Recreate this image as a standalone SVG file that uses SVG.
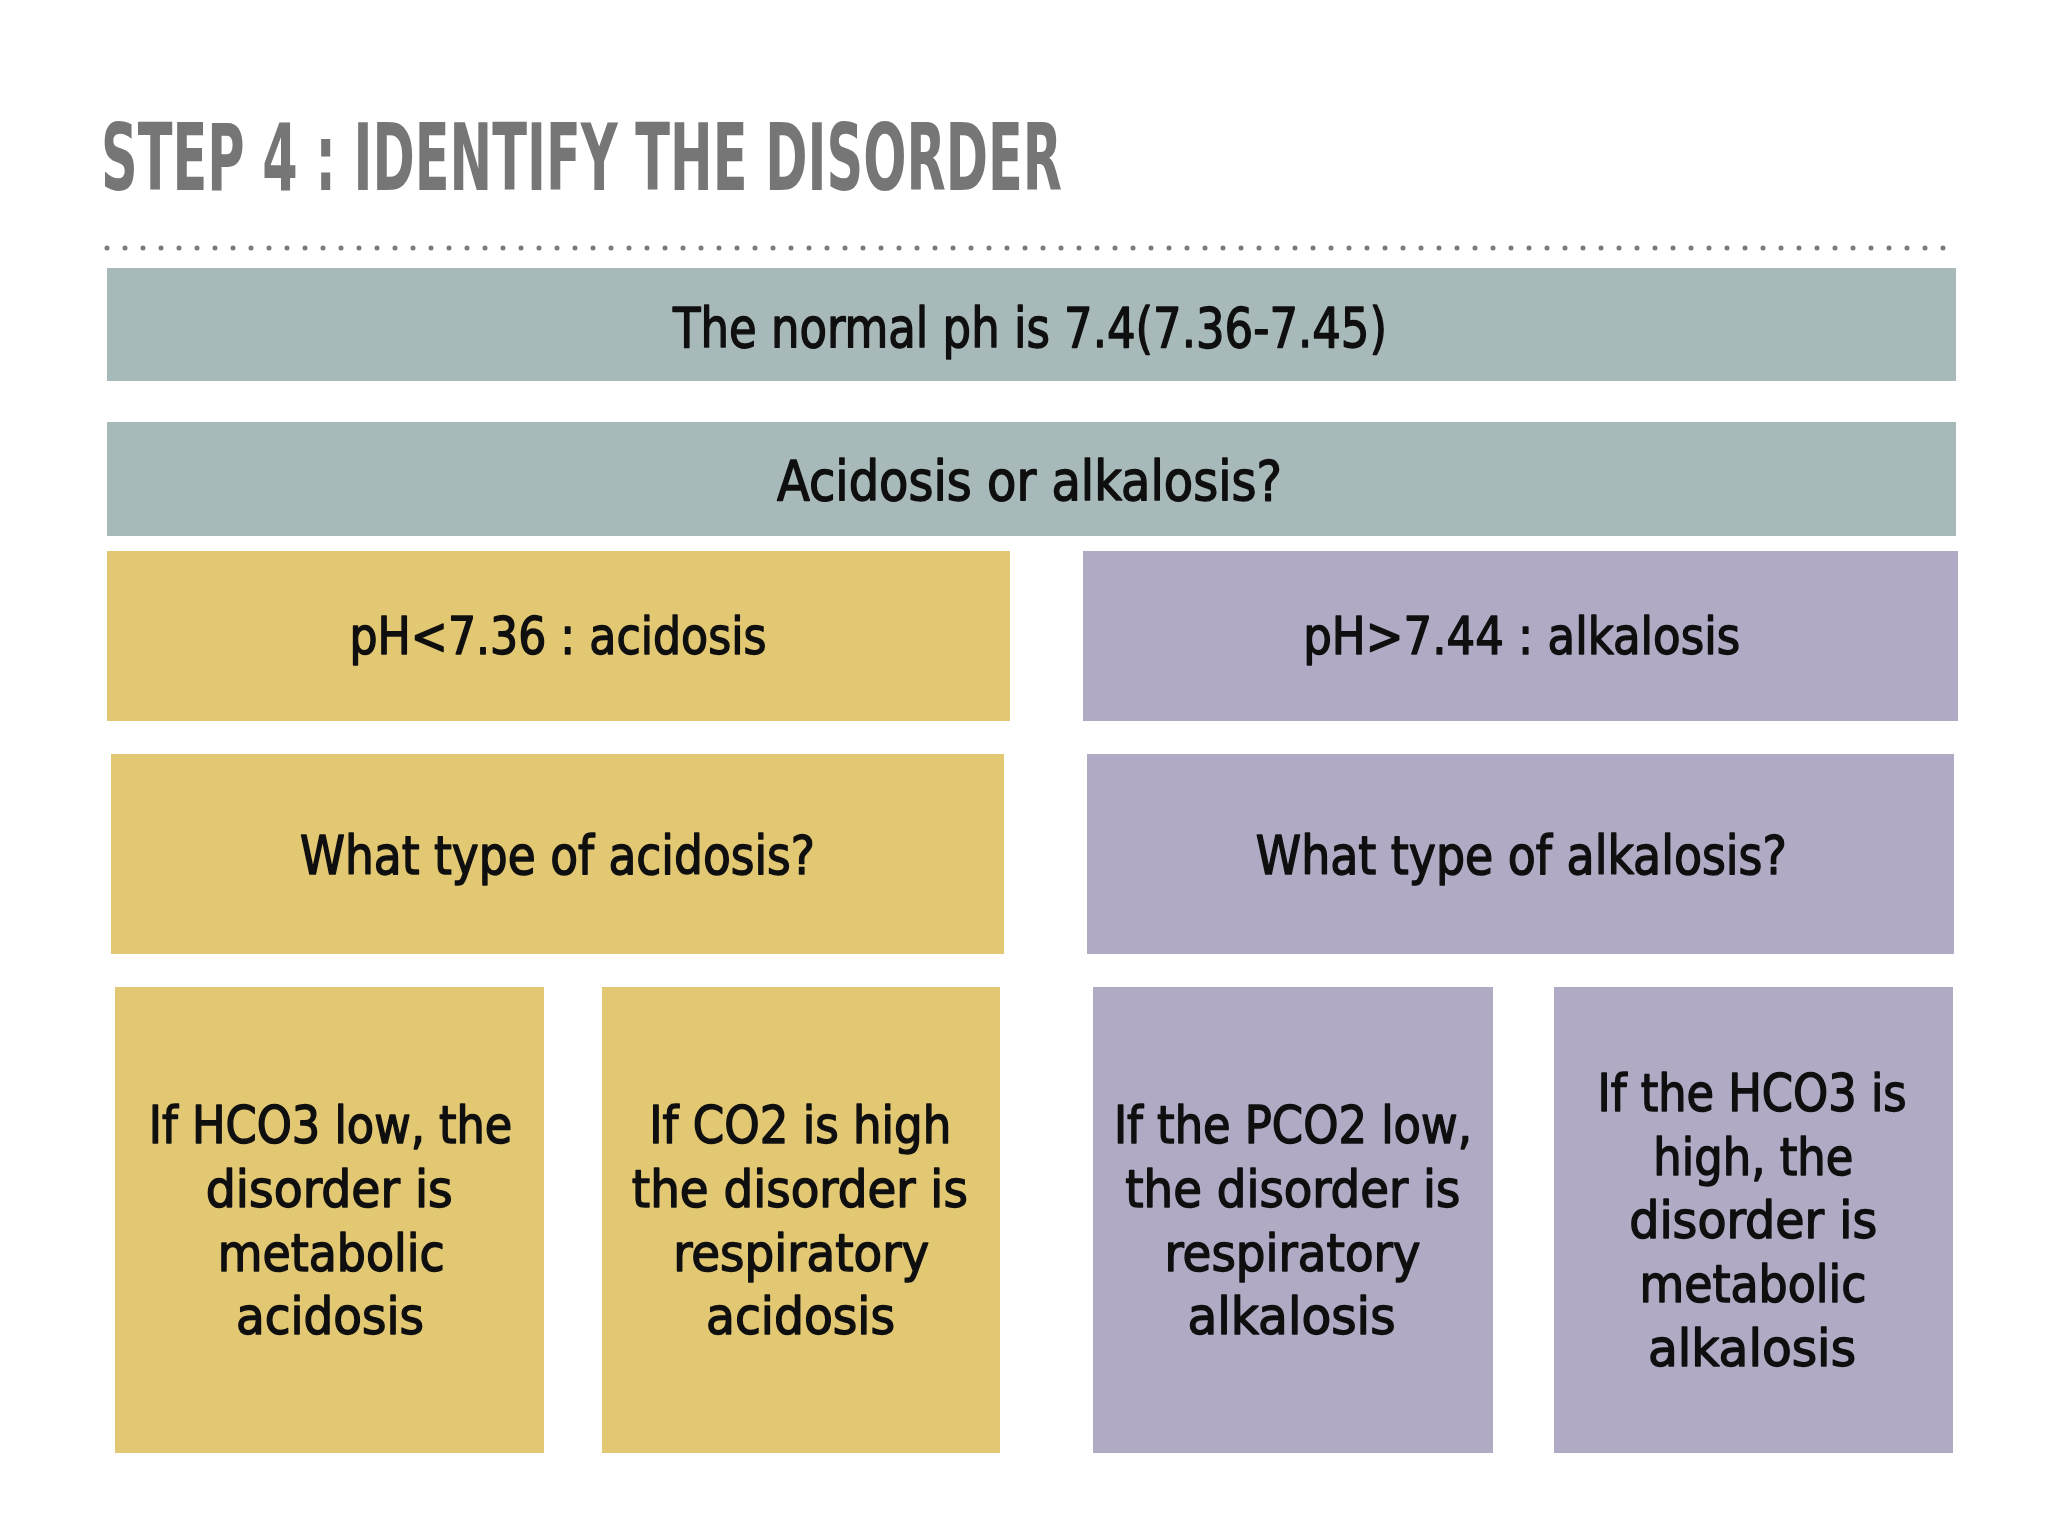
<svg xmlns="http://www.w3.org/2000/svg" width="2048" height="1536" viewBox="0 0 2048 1536">
  <style>
    .teal { fill: #a8b9b9; }
    .yel { fill: #e3c874; }
    .pur { fill: #b1aac5; }
    .t { font-family: "DejaVu Sans Condensed", "DejaVu Sans", sans-serif; font-stretch: condensed; fill: #0f0f0f; stroke: #0f0f0f; stroke-width: 1.4px; stroke-linejoin: round; text-anchor: middle; }
    .title { font-family: "DejaVu Sans Condensed", "DejaVu Sans", sans-serif; font-stretch: condensed; font-weight: bold; fill: #767676; font-size: 93px; }
    .s56 { font-size: 56px; }
    .s55 { font-size: 55px; }
    .s52 { font-size: 51.5px; }
    .s53 { font-size: 53.5px; }
    .s51 { font-size: 51px; }
  </style>
  <rect x="0" y="0" width="2048" height="1536" fill="#ffffff"/>

  <g id="title">
    <text class="title" x="101" y="189.5" textLength="961" lengthAdjust="spacingAndGlyphs">STEP 4 : IDENTIFY THE DISORDER</text>
    <line x1="107" y1="248" x2="1946" y2="248" stroke="#7a7a7a" stroke-width="5" stroke-linecap="round" stroke-dasharray="0 18"/>
  </g>

  <g id="connectors"></g>

  <g id="normal-ph">
    <rect class="teal" x="107" y="268" width="1849" height="113"/>
    <text class="t s56" x="1030" y="347" textLength="714" lengthAdjust="spacingAndGlyphs">The normal ph is 7.4(7.36-7.45)</text>
  </g>

  <g id="acid-or-alk">
    <rect class="teal" x="107" y="422" width="1849" height="114"/>
    <text class="t s55" x="1029.5" y="500" textLength="505" lengthAdjust="spacingAndGlyphs">Acidosis or alkalosis?</text>
  </g>

  <g id="acidosis">
    <rect class="yel" x="107" y="551" width="903" height="170"/>
    <text class="t s52" x="558" y="654" textLength="417" lengthAdjust="spacingAndGlyphs">pH&lt;7.36 : acidosis</text>
  </g>

  <g id="alkalosis">
    <rect class="pur" x="1083" y="551" width="875" height="170"/>
    <text class="t s52" x="1521.7" y="654" textLength="437" lengthAdjust="spacingAndGlyphs">pH&gt;7.44 : alkalosis</text>
  </g>

  <g id="acidosis-type">
    <rect class="yel" x="111" y="754" width="893" height="200"/>
    <text class="t s53" x="557.5" y="873.5" textLength="515" lengthAdjust="spacingAndGlyphs">What type of acidosis?</text>
  </g>

  <g id="alkalosis-type">
    <rect class="pur" x="1087" y="754" width="867" height="200"/>
    <text class="t s53" x="1521.3" y="874" textLength="531" lengthAdjust="spacingAndGlyphs">What type of alkalosis?</text>
  </g>

  <g id="metabolic-acidosis">
    <rect class="yel" x="115" y="987" width="429" height="466"/>
    <text class="t s51" x="330.6" y="1143" textLength="363.5" lengthAdjust="spacingAndGlyphs">If HCO3 low, the</text>
    <text class="t s51" x="329.3" y="1207" textLength="247" lengthAdjust="spacingAndGlyphs">disorder is</text>
    <text class="t s51" x="331.3" y="1270.5" textLength="227" lengthAdjust="spacingAndGlyphs">metabolic</text>
    <text class="t s51" x="330" y="1334" textLength="188" lengthAdjust="spacingAndGlyphs">acidosis</text>
  </g>

  <g id="respiratory-acidosis">
    <rect class="yel" x="602" y="987" width="398" height="466"/>
    <text class="t s51" x="800.3" y="1143" textLength="302" lengthAdjust="spacingAndGlyphs">If CO2 is high</text>
    <text class="t s51" x="799.8" y="1207" textLength="336" lengthAdjust="spacingAndGlyphs">the disorder is</text>
    <text class="t s51" x="801.2" y="1270.5" textLength="256" lengthAdjust="spacingAndGlyphs">respiratory</text>
    <text class="t s51" x="800.5" y="1334" textLength="189" lengthAdjust="spacingAndGlyphs">acidosis</text>
  </g>

  <g id="respiratory-alkalosis">
    <rect class="pur" x="1093" y="987" width="400" height="466"/>
    <text class="t s51" x="1292.9" y="1143" textLength="358" lengthAdjust="spacingAndGlyphs">If the PCO2 low,</text>
    <text class="t s51" x="1292.8" y="1207" textLength="335" lengthAdjust="spacingAndGlyphs">the disorder is</text>
    <text class="t s51" x="1292.5" y="1270.5" textLength="256" lengthAdjust="spacingAndGlyphs">respiratory</text>
    <text class="t s51" x="1291.5" y="1334" textLength="208" lengthAdjust="spacingAndGlyphs">alkalosis</text>
  </g>

  <g id="metabolic-alkalosis">
    <rect class="pur" x="1554" y="987" width="399" height="466"/>
    <text class="t s51" x="1752.1" y="1110.7" textLength="309" lengthAdjust="spacingAndGlyphs">If the HCO3 is</text>
    <text class="t s51" x="1753.3" y="1174.5" textLength="200" lengthAdjust="spacingAndGlyphs">high, the</text>
    <text class="t s51" x="1753.2" y="1238.3" textLength="248" lengthAdjust="spacingAndGlyphs">disorder is</text>
    <text class="t s51" x="1753" y="1302" textLength="227" lengthAdjust="spacingAndGlyphs">metabolic</text>
    <text class="t s51" x="1752" y="1365.8" textLength="208" lengthAdjust="spacingAndGlyphs">alkalosis</text>
  </g>
</svg>
